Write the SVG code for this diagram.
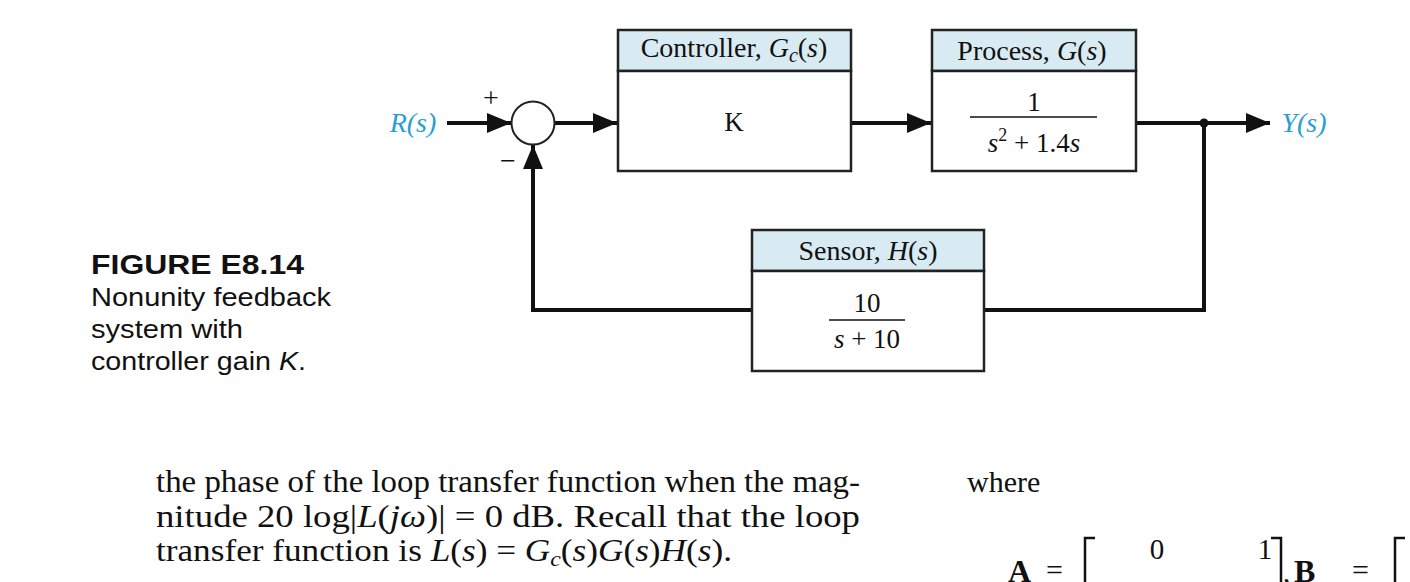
<svg xmlns="http://www.w3.org/2000/svg" width="1410" height="582" viewBox="0 0 1410 582">
<style>
.s{font-family:"Liberation Serif",serif;fill:#111}
.c{font-family:"Liberation Sans",sans-serif;fill:#111}
.hd{fill:#d8ebf2;stroke:#222;stroke-width:2.5}
.bd{fill:#fff;stroke:#222;stroke-width:2.5}
.w{stroke:#111;stroke-width:4;fill:none}
.b{fill:#2a9fd0}
</style>
<defs>
<marker id="ar" viewBox="0 0 24 20" refX="24" refY="10" markerWidth="24" markerHeight="20" markerUnits="userSpaceOnUse" orient="auto"><path d="M0,0L24,10L0,20z" fill="#111"/></marker></defs>
<rect width="1410" height="582" fill="#fff"/>
<g id="connectors">
<line class="w" x1="447" y1="123" x2="511" y2="123" marker-end="url(#ar)"/>
<line class="w" x1="555" y1="123" x2="617" y2="123" marker-end="url(#ar)"/>
<line class="w" x1="852" y1="123" x2="931" y2="123" marker-end="url(#ar)"/>
<line class="w" x1="1137" y1="123" x2="1270" y2="123" marker-end="url(#ar)"/>
<polyline class="w" points="1204,123 1204,310 985,310"/>
<polyline class="w" points="751,310 533,310 533,145" marker-end="url(#ar)"/>
<circle cx="1204" cy="123" r="4.5" fill="#111"/>
</g>
<g id="sum"><circle cx="533" cy="123" r="21.5" fill="#fff" stroke="#222" stroke-width="2"/>
<text class="s" x="491" y="107" font-size="28" text-anchor="middle">+</text>
<text class="s" x="508" y="170" font-size="28" text-anchor="middle">−</text></g>
<g id="R"><text class="s b" x="413" y="132" font-size="28" font-style="italic" text-anchor="middle">R(s)</text></g>
<g id="Y"><text class="s b" x="1304" y="132" font-size="28" font-style="italic" text-anchor="middle">Y(s)</text></g>
<g id="controller"><rect class="hd" x="618" y="30" width="233" height="41"/><rect class="bd" x="618" y="71" width="233" height="100"/>
<text class="s" x="734" y="57" font-size="28" text-anchor="middle">Controller, <tspan font-style="italic">G</tspan><tspan font-style="italic" font-size="20" dy="5">c</tspan><tspan dy="-5">(</tspan><tspan font-style="italic">s</tspan>)</text>
<text class="s" x="734" y="131" font-size="27" text-anchor="middle">K</text></g>
<g id="process"><rect class="hd" x="932" y="30" width="204" height="41"/><rect class="bd" x="932" y="71" width="204" height="100"/>
<text class="s" x="1032" y="60" font-size="28" text-anchor="middle">Process, <tspan font-style="italic">G</tspan>(<tspan font-style="italic">s</tspan>)</text>
<text class="s" x="1034" y="111" font-size="27" text-anchor="middle">1</text>
<line x1="970" y1="117" x2="1097" y2="117" stroke="#111" stroke-width="1.5"/>
<text class="s" x="1034" y="152" font-size="27" text-anchor="middle"><tspan font-style="italic">s</tspan><tspan font-size="18" dy="-11">2</tspan><tspan dy="11"> + 1.4</tspan><tspan font-style="italic">s</tspan></text></g>
<g id="sensor"><rect class="hd" x="752" y="230" width="232" height="41"/><rect class="bd" x="752" y="271" width="232" height="100"/>
<text class="s" x="868" y="260" font-size="28" text-anchor="middle">Sensor, <tspan font-style="italic">H</tspan>(<tspan font-style="italic">s</tspan>)</text>
<text class="s" x="867" y="312" font-size="27" text-anchor="middle">10</text>
<line x1="829" y1="320" x2="905" y2="320" stroke="#111" stroke-width="1.5"/>
<text class="s" x="867" y="348" font-size="27" text-anchor="middle"><tspan font-style="italic">s</tspan> + 10</text></g>
<g id="caption">
<text class="c" x="91" y="274" font-size="27" font-weight="bold" textLength="213" lengthAdjust="spacingAndGlyphs">FIGURE E8.14</text>
<text class="c" x="91" y="306" font-size="26" textLength="240" lengthAdjust="spacingAndGlyphs">Nonunity feedback</text>
<text class="c" x="91" y="338" font-size="26" textLength="152" lengthAdjust="spacingAndGlyphs">system with</text>
<text class="c" x="91" y="370" font-size="26" textLength="215" lengthAdjust="spacingAndGlyphs">controller gain <tspan font-style="italic">K</tspan>.</text></g>
<g id="body">
<text class="s" x="156" y="492" font-size="31" textLength="704" lengthAdjust="spacingAndGlyphs">the phase of the loop transfer function when the mag-</text>
<text class="s" x="156" y="527" font-size="31" textLength="704" lengthAdjust="spacingAndGlyphs">nitude  20 log|<tspan font-style="italic">L</tspan>(<tspan font-style="italic">jω</tspan>)|  = 0 dB.  Recall  that  the  loop</text>
<text class="s" x="156" y="561" font-size="31" textLength="576" lengthAdjust="spacingAndGlyphs">transfer function is <tspan font-style="italic">L</tspan>(<tspan font-style="italic">s</tspan>) = <tspan font-style="italic">G</tspan><tspan font-style="italic" font-size="21" dy="5">c</tspan><tspan dy="-5">(</tspan><tspan font-style="italic">s</tspan>)<tspan font-style="italic">G</tspan>(<tspan font-style="italic">s</tspan>)<tspan font-style="italic">H</tspan>(<tspan font-style="italic">s</tspan>).</text>
<text class="s" x="967" y="492" font-size="30">where</text>
<text class="s" x="1008" y="582" font-size="32" font-weight="bold">A</text>
<text class="s" x="1046" y="580" font-size="30">=</text>
<path d="M1085,582V538H1095M1271,538H1281V582" fill="none" stroke="#111" stroke-width="2.5"/>
<text class="s" x="1157" y="559" font-size="29" text-anchor="middle">0</text>
<text class="s" x="1265" y="559" font-size="29" text-anchor="middle">1</text>
<text class="s" x="1283" y="582" font-size="29">,</text>
<text class="s" x="1294" y="582" font-size="32" font-weight="bold">B</text>
<text class="s" x="1352" y="580" font-size="30">=</text>
<path d="M1395,582V538H1405" fill="none" stroke="#111" stroke-width="2.5"/>
</g>
</svg>
